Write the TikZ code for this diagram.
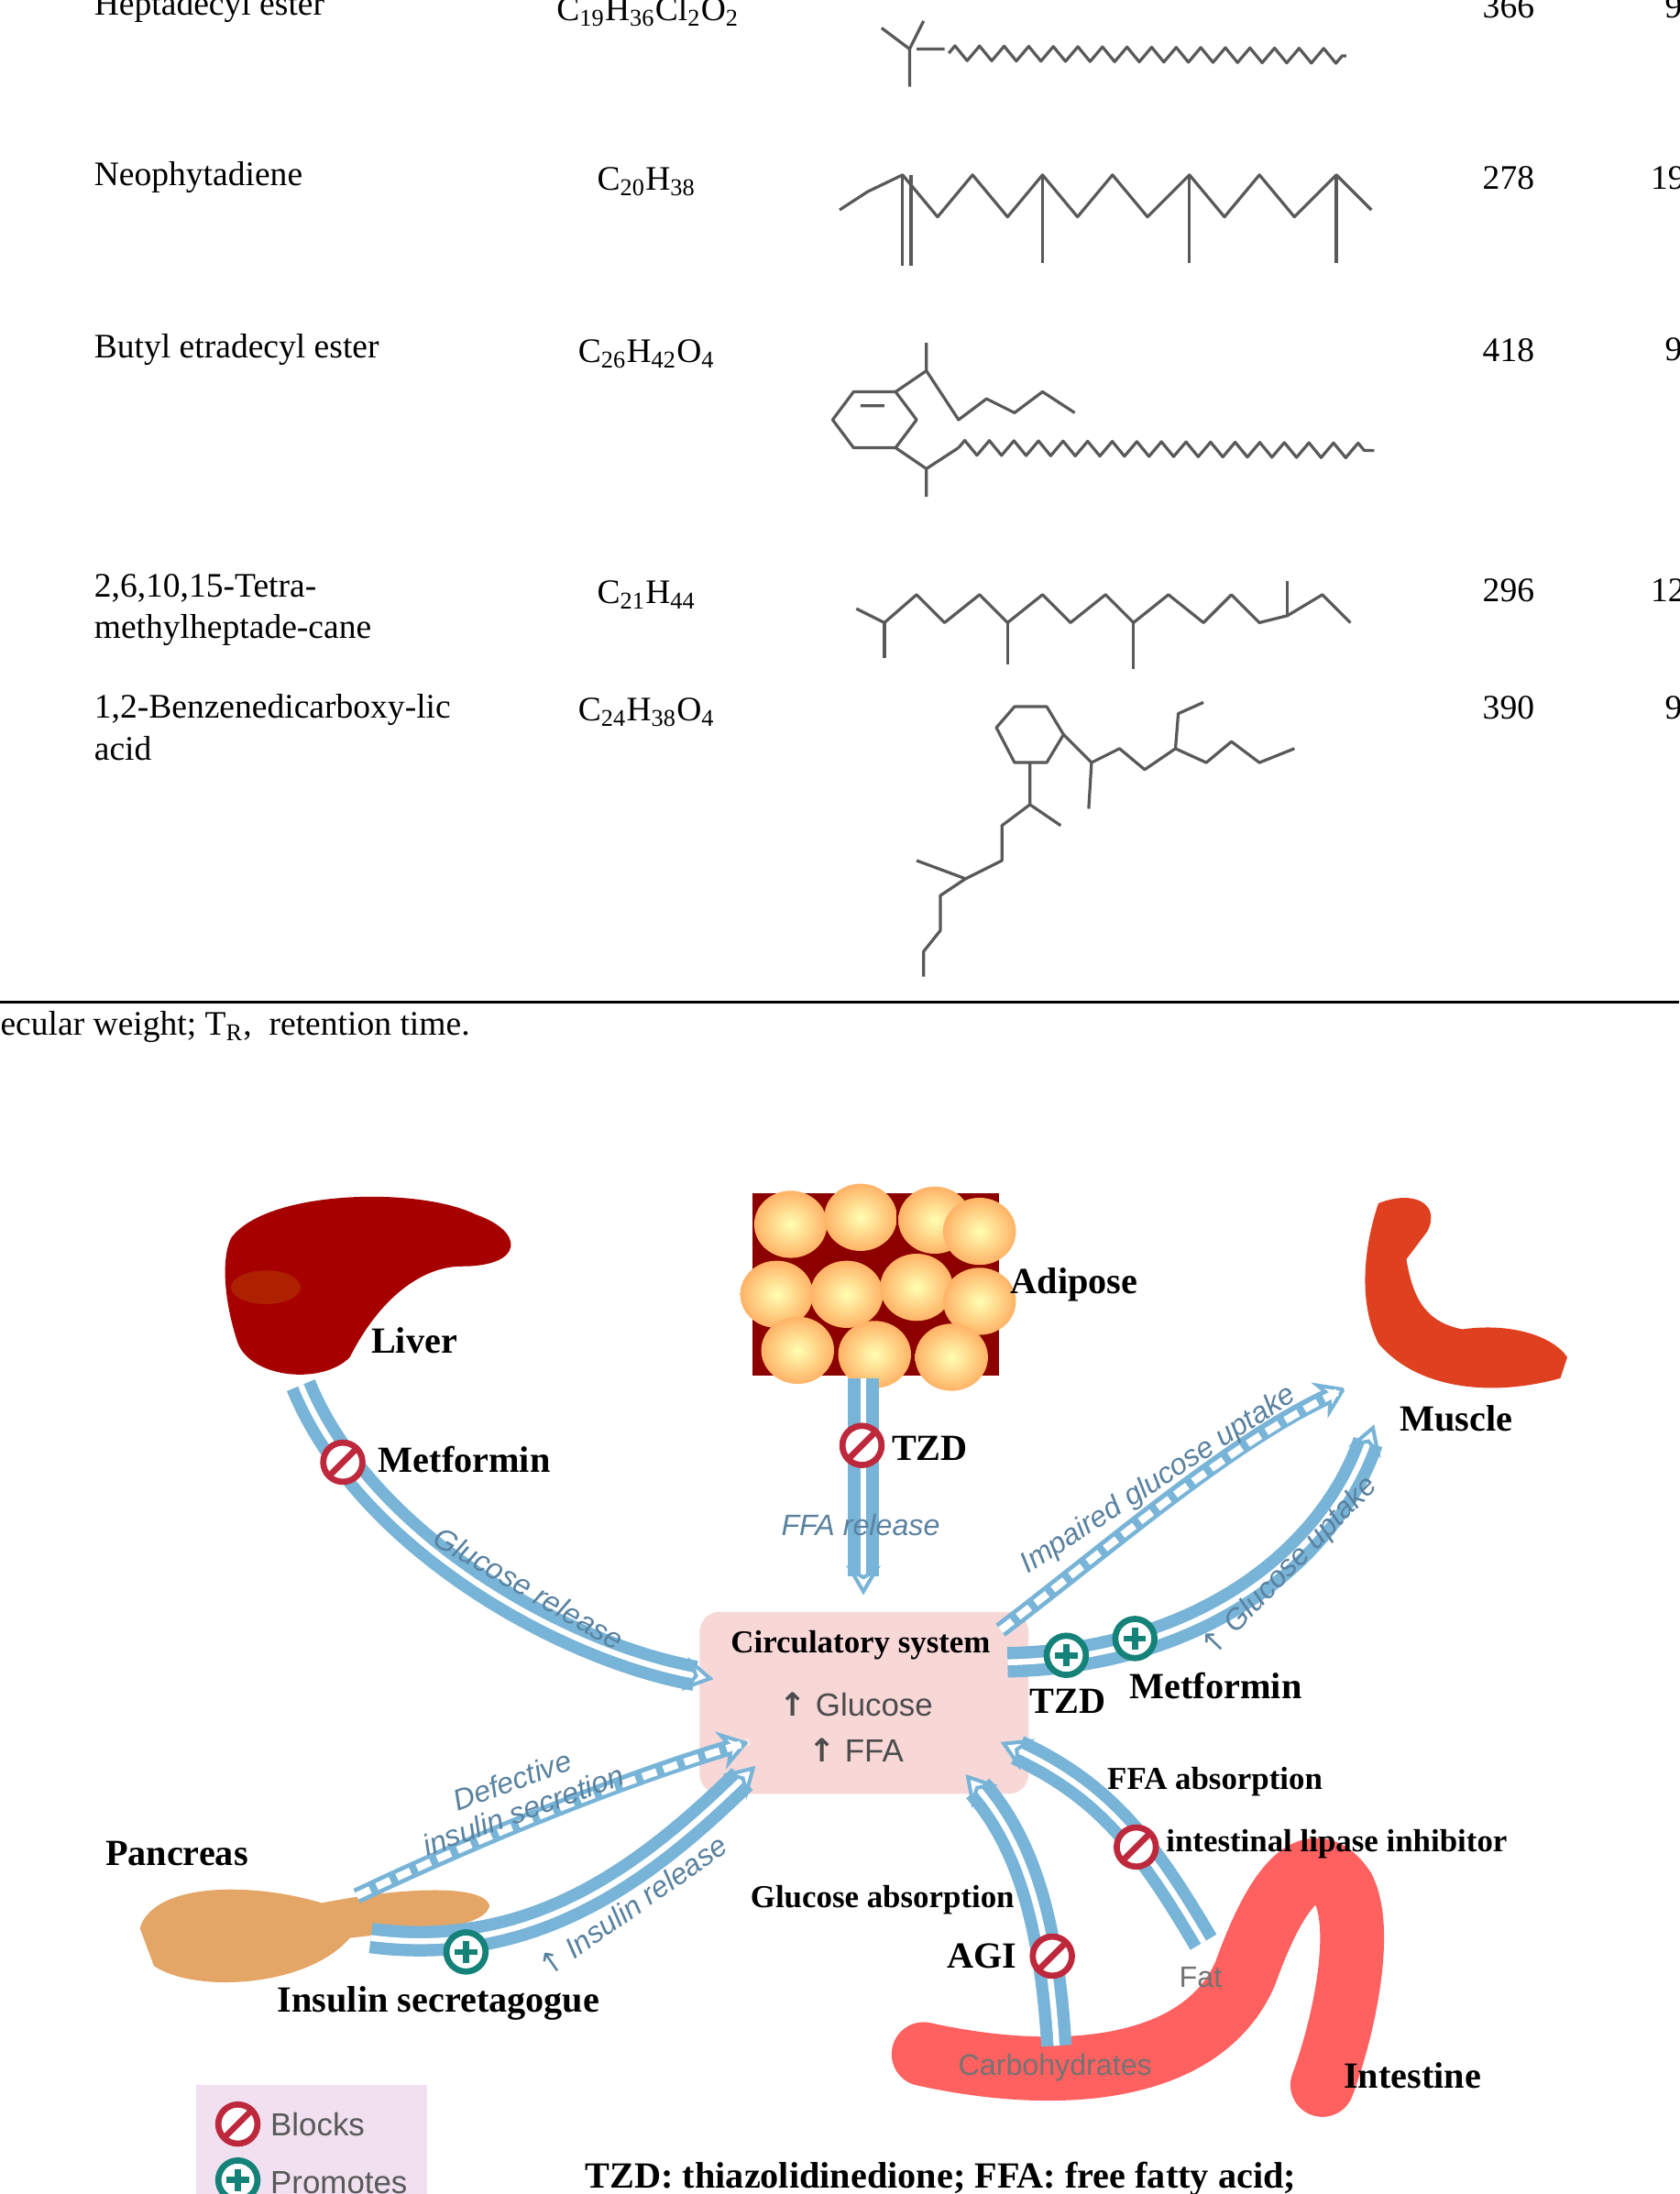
\documentclass[tikz,border=0pt]{standalone}
\usepackage{fontspec}
\setmainfont{Liberation Serif}
\setsansfont{Liberation Sans}
\newfontfamily\symf{DejaVu Sans}
\usetikzlibrary{arrows.meta,decorations.pathmorphing}
\definecolor{arr}{RGB}{120,180,215}
\definecolor{lbl}{RGB}{90,130,160}
\definecolor{teal1}{RGB}{20,130,120}
\definecolor{redb}{RGB}{190,40,60}
\definecolor{pinkbox}{RGB}{248,215,215}
\tikzset{
 x=0.02cm,y=-0.02cm,
 tab/.style={font=\fontsize{14}{17}\selectfont,anchor=west,inner sep=0},
 num/.style={font=\fontsize{14}{17}\selectfont,inner sep=0},
 mol/.style={gray!70!black,line width=1.2pt,line join=round},
 org/.style={font=\bfseries\fontsize{15}{18}\selectfont,inner sep=0},
 ital/.style={font=\sffamily\itshape\fontsize{12}{13}\selectfont,text=lbl,inner sep=0},
 flow/.style={draw=arr,line width=5pt,double=white,double distance=2.4pt,-{Stealth[open,length=12pt,width=14pt,fill=white,line width=1.5pt]}},
 dflow/.style={draw=arr,line width=6.5pt,-{Stealth[open,length=12pt,width=16pt,fill=white,line width=1.5pt]},postaction={draw=white,line width=3pt,dash pattern=on 6pt off 3pt,-}},
}
\newcommand{\blocksym}[1]{\begin{scope}[shift={#1}]\fill[white](0,0)circle(15);\draw[redb,line width=2.5pt](0,0)circle(14);\draw[redb,line width=2.5pt](-10,10)--(10,-10);\end{scope}}
\newcommand{\promsym}[1]{\begin{scope}[shift={#1}]\fill[white](0,0)circle(15);\draw[teal1,line width=2.5pt](0,0)circle(14);\draw[teal1,line width=2.5pt](-8,0)--(8,0)(0,-8)--(0,8);\end{scope}}
\begin{document}
\begin{tikzpicture}
\useasboundingbox (0,0) rectangle (1200,1568);
\fill[white] (0,0) rectangle (1200,1568);
% ---- table
\node[tab] (n1) at (67,5) {Heptadecyl ester};
\node[num] (f1) at (463,8) {C\textsubscript{19}H\textsubscript{36}Cl\textsubscript{2}O\textsubscript{2}};
\node[num] (m1) at (1078,5) {366};
\node[num] (r1) at (1196,5) {9};
\node[tab] (n2) at (67,127) {Neophytadiene};
\node[num] (f2) at (462,130) {C\textsubscript{20}H\textsubscript{38}};
\node[num] (m2) at (1078,127) {278};
\node[num] (r2) at (1192,127) {19};
\node[tab] (n3) at (67,250) {Butyl etradecyl ester};
\node[num] (f3) at (462,253) {C\textsubscript{26}H\textsubscript{42}O\textsubscript{4}};
\node[num] (m3) at (1078,250) {418};
\node[num] (r3) at (1196,250) {9};
\node[tab,align=left] (n4) at (67,436) {2,6,10,15-Tetra-\\methylheptade-cane};
\node[num] (f4) at (462,425) {C\textsubscript{21}H\textsubscript{44}};
\node[num] (m4) at (1078,422) {296};
\node[num] (r4) at (1192,422) {12};
\node[tab,align=left] (n5) at (67,520) {1,2-Benzenedicarboxy-lic\\acid};
\node[num] (f5) at (462,509) {C\textsubscript{24}H\textsubscript{38}O\textsubscript{4}};
\node[num] (m5) at (1078,506) {390};
\node[num] (r5) at (1196,506) {9};
\draw[line width=1pt] (0,716) -- (1200,716);
\node[tab] (cap) at (0,734) {ecular weight; T\textsubscript{R}, \ retention time.};
% molecules
\draw[mol] (630,20)--(650,35)--(660,15) (650,35)--(650,62) (655,35)--(675,35);
\draw[mol,decorate,decoration={zigzag,segment length=10pt,amplitude=3pt}] (678,38)--(962,40);
\draw[mol] (600,150)--(620,137)--(645,125)--(670,155)--(695,125)--(720,155)--(745,125)--(770,155)--(795,125)--(820,155)--(850,125)--(875,155)--(900,125)--(925,155)--(955,125)--(980,150);
\draw[mol] (645,125)--(645,190) (651,125)--(651,190) (745,125)--(745,188) (850,125)--(850,188) (955,125)--(955,188);
\draw[mol] (595,300)--(610,280)--(640,280)--(655,300)--(640,320)--(610,320)--cycle (615,290)--(632,290);
\draw[mol] (640,280)--(662,265)--(662,245) (640,320)--(662,335)--(662,355);
\draw[mol] (662,265)--(685,300)--(705,285)--(725,295)--(745,280)--(768,295);
\draw[mol,decorate,decoration={zigzag,segment length=10pt,amplitude=3pt}] (685,320)--(982,322);
\draw[mol] (662,335)--(685,320);
\draw[mol] (612,435)--(632,445)--(655,425)--(675,445)--(700,425)--(720,445)--(745,425)--(765,445)--(790,425)--(810,445)--(835,425)--(860,445)--(880,425)--(900,445)--(920,440)--(945,425)--(965,445);
\draw[mol] (632,445)--(632,470) (720,445)--(720,475) (810,445)--(810,478) (920,440)--(920,415);
\draw[mol] (712,520)--(725,505)--(748,505)--(760,525)--(748,545)--(725,545)--cycle;
\draw[mol] (760,525)--(780,545)--(800,535)--(818,550)--(840,535)--(862,545)--(880,530)--(900,545)--(925,535) (840,535)--(842,510)--(860,502);
\draw[mol] (780,545)--(778,578) (736,545)--(736,575)--(716,590)--(716,615)--(690,628)--(672,640)--(672,665)--(660,680)--(660,698) (690,628)--(655,615) (736,575)--(758,590);
% ---- organs
\fill[red!65!black] (165,885) .. controls (190,850) and (300,848) .. (340,868) .. controls (375,880) and (375,905) .. (330,905) .. controls (300,905) and (270,930) .. (250,970) .. controls (230,990) and (180,985) .. (170,960) .. controls (160,930) and (158,900) .. (165,885);
\fill[orange!60!red!70!black,opacity=.6] (190,920) ellipse (25 and 12);
\fill[red!55!black] (538,853) rectangle (714,983);
\foreach \cx/\cy in {565/875,615/870,668/872,555/925,605/925,655/920,700/930,570/965,625/968,680/970,700/880}
  \shade[inner color=yellow!30,outer color=orange!60] (\cx,\cy) ellipse (26 and 24);
\fill[red!50!brown] (985,860) .. controls (1010,850) and (1030,860) .. (1020,880) -- (1005,900) .. controls (1010,930) and (1020,945) .. (1045,950) .. controls (1080,945) and (1110,955) .. (1120,970) -- (1115,985) .. controls (1060,1000) and (1010,990) .. (985,960) .. controls (970,930) and (975,890) .. (985,860);
\fill[orange!40!brown!70] (100,1378) .. controls (110,1345) and (180,1345) .. (230,1360) .. controls (280,1350) and (345,1345) .. (350,1362) .. controls (345,1380) and (290,1380) .. (250,1385) .. controls (220,1420) and (140,1425) .. (110,1405) -- cycle;
\draw[red!50!pink,line width=26pt,line cap=round] (660,1468) .. controls (760,1490) and (860,1480) .. (890,1410) .. controls (915,1340) and (940,1320) .. (960,1350) .. controls (975,1380) and (960,1450) .. (945,1490);
% ---- circulatory box
\fill[pinkbox,rounded corners=8] (500,1152) rectangle (735,1282);
\node[font=\bfseries\fontsize{13}{15}\selectfont] (circ) at (615,1176) {Circulatory system};
\node[font=\sffamily\fontsize{13}{15}\selectfont,text=black!70] (glu) at (612,1218) {{\symf\bfseries ↑} Glucose};
\node[font=\sffamily\fontsize{13}{15}\selectfont,text=black!70] (ffa) at (612,1251) {{\symf\bfseries ↑} FFA};
% ---- arrows
\draw[flow] (215,990) .. controls (260,1100) and (400,1180) .. (510,1200);
\draw[flow] (617,985) -- (617,1140);
\draw[flow] (720,1188) .. controls (860,1185) and (950,1110) .. (982,1018);
\draw[dflow] (715,1165) .. controls (800,1100) and (880,1030) .. (962,992);
\draw[dflow] (255,1355) .. controls (350,1310) and (450,1270) .. (535,1245);
\draw[flow] (265,1385) .. controls (380,1400) and (460,1340) .. (540,1262);
\draw[flow] (755,1462) .. controls (750,1380) and (735,1320) .. (690,1268);
\draw[flow] (860,1388) .. controls (820,1320) and (790,1280) .. (715,1245);
% ---- symbols
\blocksym{(245,1045)} \blocksym{(616,1033)} \blocksym{(812,1320)} \blocksym{(752,1398)}
\promsym{(762,1183)} \promsym{(811,1171)} \promsym{(333,1395)}
% ---- labels
\node[org,anchor=west] (liver) at (265,958) {Liver};
\node[org,anchor=west] (adip) at (722,918) {Adipose};
\node[org,anchor=west] (musc) at (1000,1014) {Muscle};
\node[org,anchor=west] (met1) at (270,1043) {Metformin};
\node[org,anchor=west] (tzd1) at (637,1035) {TZD};
\node[org,anchor=west] (panc) at (75,1325) {Pancreas};
\node[org,anchor=west] (isec) at (198,1432) {Insulin secretagogue};
\node[org] (tzd2) at (763,1216) {TZD};
\node[org,anchor=west] (met2) at (807,1205) {Metformin};
\node[org,anchor=west,font=\bfseries\fontsize{13}{15}\selectfont] (ffaa) at (791,1273) {FFA absorption};
\node[org,anchor=west,font=\bfseries\fontsize{13}{15}\selectfont] (ilip) at (833,1318) {intestinal lipase inhibitor};
\node[org,anchor=west,font=\bfseries\fontsize{13}{15}\selectfont] (glab) at (536,1358) {Glucose absorption};
\node[org,anchor=east] (agi) at (727,1398) {AGI};
\node[org,anchor=west] (intes) at (960,1483) {Intestine};
\node[ital,rotate=-30] (l1) at (378,1135) {Glucose release};
\node[ital] (l2) at (615,1090) {FFA release};
\node[ital,rotate=33] (l3) at (828,1058) {Impaired glucose uptake};
\node[ital,rotate=46] (l4) at (922,1120) {{\symf\upshape ↑} Glucose uptake};
\node[ital,rotate=20,align=center] (l5) at (370,1283) {Defective\\insulin secretion};
\node[ital,rotate=35] (l6) at (452,1362) {{\symf\upshape ↑} Insulin release};
\node[ital,font=\sffamily\fontsize{12}{13}\selectfont,text=black!55] (l7) at (858,1413) {Fat};
\node[ital,font=\sffamily\fontsize{12}{13}\selectfont,text=black!55] (l8) at (754,1478) {Carbohydrates};
% legend
\fill[violet!12] (140,1490) rectangle (305,1568);
\blocksym{(170,1518)} \promsym{(170,1558)}
\node[ital,font=\sffamily\fontsize{13}{15}\selectfont,text=black!65,anchor=west] (lb) at (193,1518) {Blocks};
\node[ital,font=\sffamily\fontsize{13}{15}\selectfont,text=black!65,anchor=west] (lp) at (193,1560) {Promotes};
\node[org,anchor=west] (foot) at (418,1557) {TZD: thiazolidinedione; FFA: free fatty acid;};
\end{tikzpicture}
\end{document}
